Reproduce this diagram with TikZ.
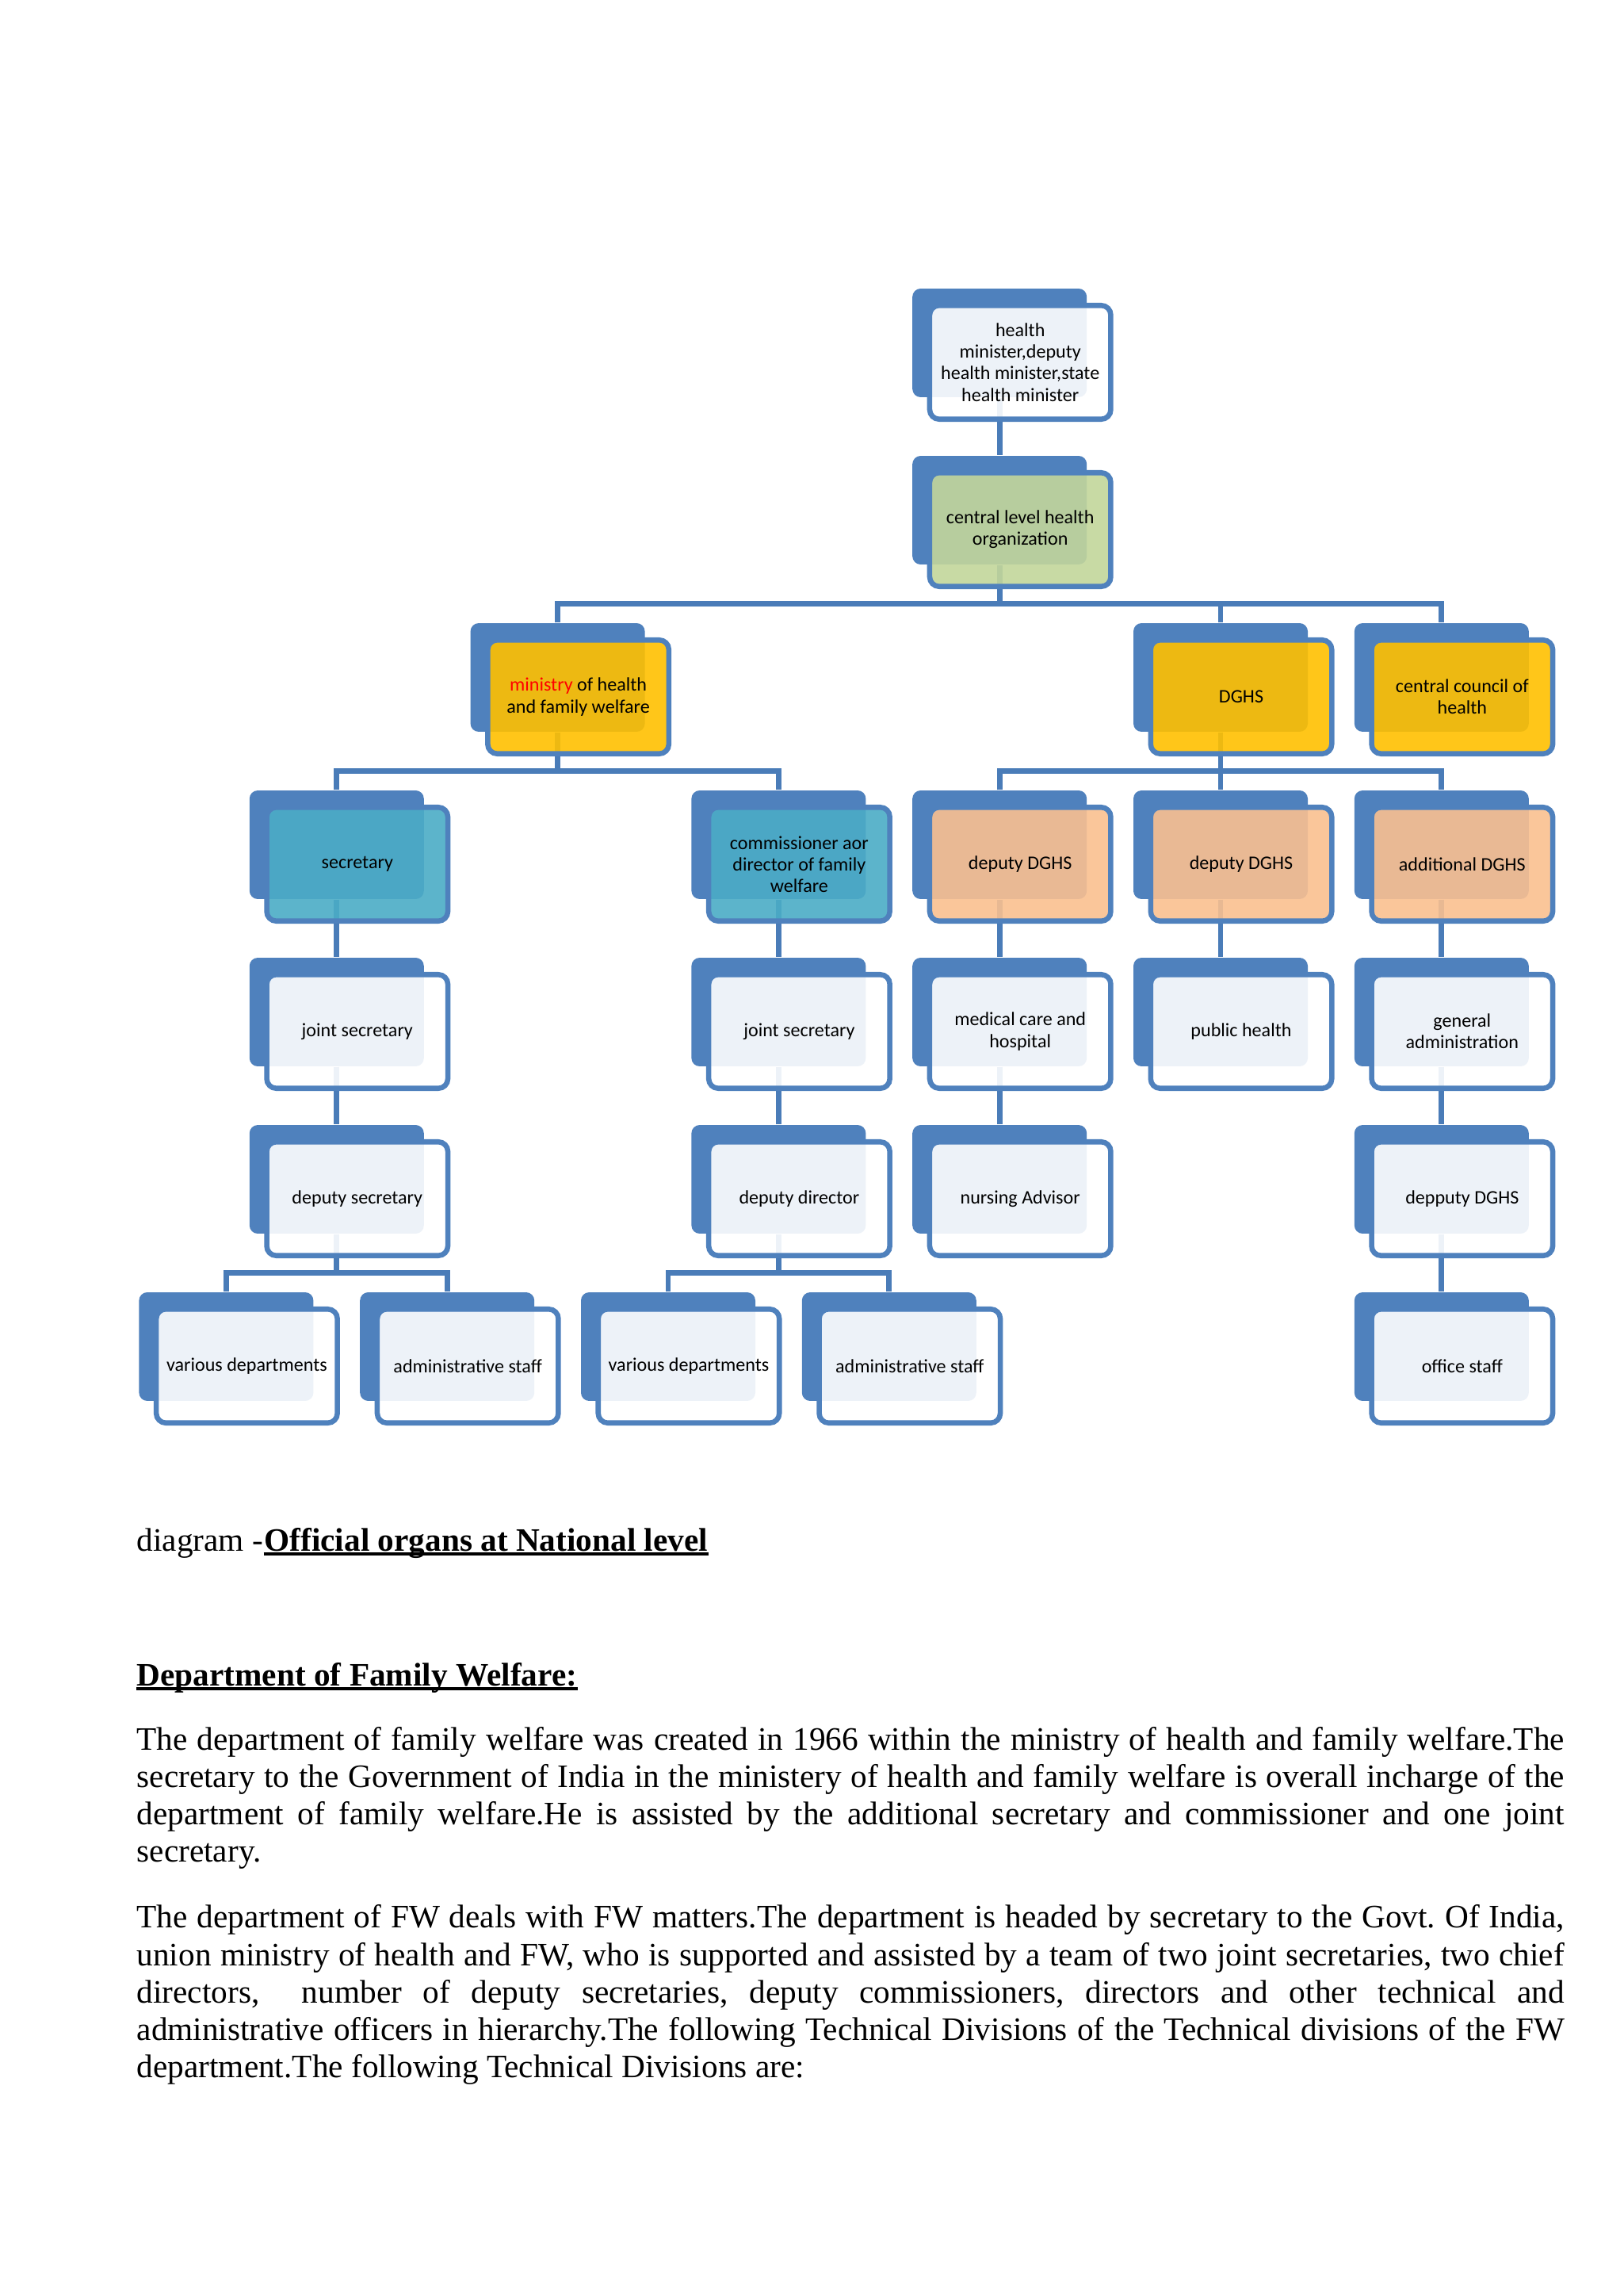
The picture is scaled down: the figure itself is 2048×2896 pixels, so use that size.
\documentclass[tikz,border=0pt]{standalone}
\usepackage{fontspec}
\setmainfont{Liberation Serif}
\newfontfamily\boxfont{Carlito}
\usetikzlibrary{calc}
\pgfdeclarelayer{paper}
\pgfdeclarelayer{bg}
\pgfsetlayers{paper,bg,main}
\frenchspacing
\definecolor{accblue}{RGB}{79,129,189}
\definecolor{connblue}{RGB}{74,124,184}
\definecolor{cgreen}{RGB}{195,214,155}
\definecolor{cgold}{RGB}{255,192,0}
\definecolor{cteal}{RGB}{75,172,198}
\definecolor{cpeach}{RGB}{250,192,144}
\definecolor{cwhite}{RGB}{255,255,255}
\definecolor{wordred}{RGB}{255,0,0}

\tikzset{
  backbox/.style={draw=none, fill=accblue, rounded corners=3pt,
    minimum width=63.93pt, minimum height=39.8pt, inner sep=0pt},
  frontbox/.style={draw=accblue, line width=1.9pt, fill opacity=0.9, text opacity=1,
    rounded corners=3.5pt, minimum width=66.4pt, minimum height=41.7pt,
    inner sep=0pt, align=center, font=\boxfont\fontsize{7pt}{7.9pt}\selectfont},
  conn/.style={draw=connblue, line width=1.95pt},
  body/.style={anchor=base west, inner sep=0pt, font=\fontsize{12pt}{13.75pt}\selectfont\frenchspacing},
  uline/.style={draw=black, line width=1.35pt},
}

\newcommand{\orgbox}[5]{%
  \pgfmathsetmacro{\bx}{175.4+139.4*#2}%
  \pgfmathsetmacro{\by}{364+211*#3}%
  \node[backbox] (#1) at (\bx+110,\by+68.5) {};
  \node[frontbox, fill=#4] (#1f) at (\bx+136,\by+93) {#5};
}
\newcommand{\vlink}[2]{\draw[conn] (#1.south) -- (#2.north);}
\newcommand{\branch}[3]{%
  \coordinate (#1bar) at ($(#1.south)+(0,49)$);
  \draw[conn] (#1.south) -- (#1bar);
  \draw[conn] (#2.north) -- (#2.north |- #1bar) -- (#3.north |- #1bar) -- (#3.north);
}
\newcommand{\jl}[1]{\hbox to 523.4pt{#1}}

\begin{document}
\begin{tikzpicture}[x=0.2906pt, y=-0.2906pt]
\begin{pgfonlayer}{paper}
  \fill[white] (0,0) rectangle (2048,2896);
\end{pgfonlayer}
\useasboundingbox (0,0) rectangle (2048,2896);

% boxes
\orgbox{top}{7}{0}{cwhite}{health\\minister,deputy\\health minister,state\\health minister}
\orgbox{central}{7}{1}{cgreen}{central level health\\organization}
\orgbox{ministry}{3}{2}{cgold}{{\color{wordred}ministry} of health\\and family welfare}
\orgbox{dghs}{9}{2}{cgold}{DGHS}
\orgbox{council}{11}{2}{cgold}{central council of\\health}
\orgbox{sec}{1}{3}{cteal}{secretary}
\orgbox{comm}{5}{3}{cteal}{commissioner aor\\director of family\\welfare}
\orgbox{ddga}{7}{3}{cpeach}{deputy DGHS}
\orgbox{ddgb}{9}{3}{cpeach}{deputy DGHS}
\orgbox{addg}{11}{3}{cpeach}{additional DGHS}
\orgbox{jsa}{1}{4}{cwhite}{joint secretary}
\orgbox{jsb}{5}{4}{cwhite}{joint secretary}
\orgbox{med}{7}{4}{cwhite}{medical care and\\hospital}
\orgbox{ph}{9}{4}{cwhite}{public health}
\orgbox{genadm}{11}{4}{cwhite}{general\\administration}
\orgbox{dsec}{1}{5}{cwhite}{deputy secretary}
\orgbox{ddir}{5}{5}{cwhite}{deputy director}
\orgbox{nurse}{7}{5}{cwhite}{nursing Advisor}
\orgbox{dpdghs}{11}{5}{cwhite}{depputy DGHS}
\orgbox{vda}{0}{6}{cwhite}{various departments}
\orgbox{asa}{2}{6}{cwhite}{administrative staff}
\orgbox{vdb}{4}{6}{cwhite}{various departments}
\orgbox{asb}{6}{6}{cwhite}{administrative staff}
\orgbox{office}{11}{6}{cwhite}{office staff}

% connectors
\begin{pgfonlayer}{bg}
  \vlink{top}{central}
  \branch{central}{ministry}{council}
  \draw[conn] (centralbar) -- (dghs.north |- centralbar) -- (dghs.north);
  \branch{ministry}{sec}{comm}
  \branch{dghs}{ddga}{addg}
  \draw[conn] (dghsbar) -- (ddgb.north);
  \vlink{sec}{jsa}
  \vlink{jsa}{dsec}
  \branch{dsec}{vda}{asa}
  \vlink{comm}{jsb}
  \vlink{jsb}{ddir}
  \branch{ddir}{vdb}{asb}
  \vlink{ddga}{med}
  \vlink{med}{nurse}
  \vlink{ddgb}{ph}
  \vlink{addg}{genadm}
  \vlink{genadm}{dpdghs}
  \vlink{dpdghs}{office}
\end{pgfonlayer}

% caption and text
\node[body] (capa) at (172,1956) {diagram -};
\node[body] (capb) at (capa.base east) {\bfseries Official organs at National level};
\draw[uline] ($(capb.base west)+(0,4)$) -- ($(capb.base east)+(0,4)$);

\node[body] (head) at (172,2126) {\bfseries Department of Family Welfare:};
\draw[uline] ($(head.base west)+(0,4)$) -- ($(head.base east)+(0,4)$);

\node[body] (pa1) at (172,2207) {\jl{The department of family welfare was created in 1966 within the ministry of health and family welfare.The}};
\node[body] (pa2) at (172,2254.3) {\jl{secretary to the Government of India in the ministery of health and family welfare is overall incharge of the}};
\node[body] (pa3) at (172,2301.6) {\jl{department of family welfare.He is assisted by the additional secretary and commissioner and one joint}};
\node[body] (pa4) at (172,2348.9) {secretary.};

\node[body] (pb1) at (172,2431.7) {\jl{The department of FW deals with FW matters.The department is headed by secretary to the Govt. Of India,}};
\node[body] (pb2) at (172,2479) {\jl{union ministry of health and FW, who is supported and assisted by a team of two joint secretaries, two chief}};
\node[body] (pb3) at (172,2526.3) {\jl{directors,\ \ number of deputy secretaries, deputy commissioners, directors and other technical and}};
\node[body] (pb4) at (172,2573.6) {\jl{administrative officers in hierarchy.The following Technical Divisions of the Technical divisions of the FW}};
\node[body] (pb5) at (172,2620.9) {department.The following Technical Divisions are:};
\end{tikzpicture}
\end{document}
